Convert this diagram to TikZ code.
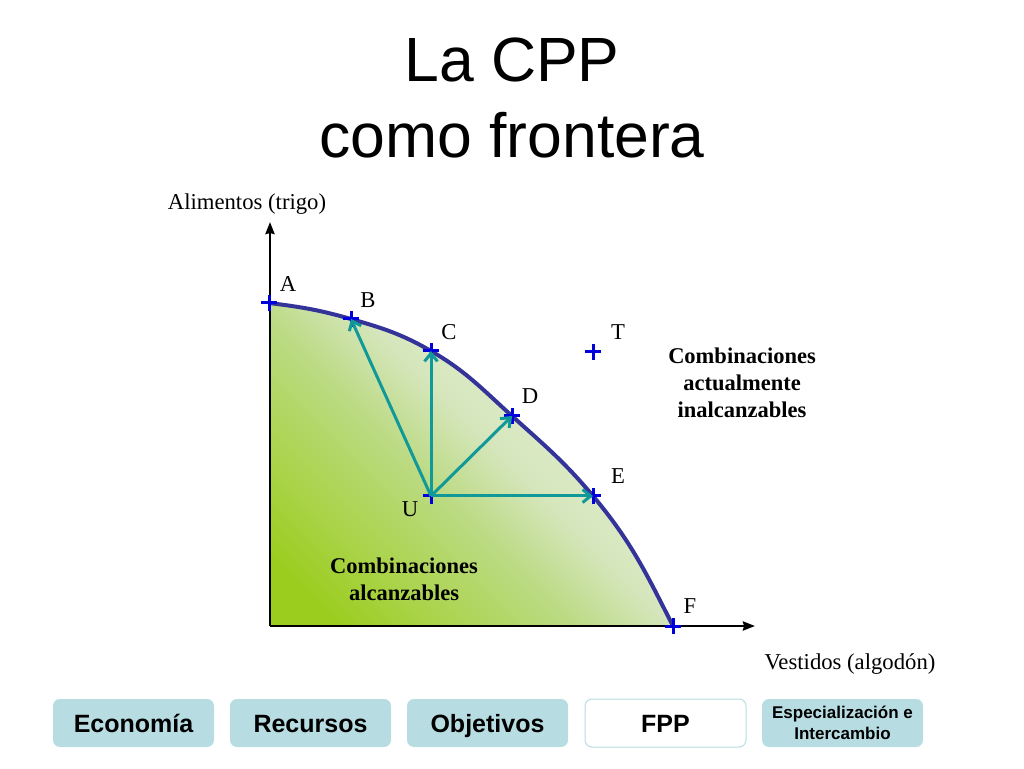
\documentclass[tikz,border=0pt]{standalone}
\usepackage{fontspec}
\setmainfont{Liberation Serif}
\newfontfamily\sansfont{Liberation Sans}
\usetikzlibrary{arrows.meta, shapes.misc}
\definecolor{tabfill}{HTML}{B7DDE3}
\definecolor{curveblue}{HTML}{333399}
\definecolor{crossblue}{HTML}{0000DD}
\definecolor{arrowteal}{HTML}{119999}
\definecolor{verdea}{HTML}{9ACD1E}
\definecolor{verdeb}{HTML}{ABD34A}
\definecolor{verdec}{HTML}{BBDA82}
\definecolor{verded}{HTML}{D5E6BC}
\definecolor{verdee}{HTML}{DDEBC8}
\definecolor{verdef}{HTML}{E8F1DA}
\pgfdeclareverticalshading{verde}{100bp}{
  color(0bp)=(verdea);
  color(21bp)=(verdea);
  color(31bp)=(verdeb);
  color(44bp)=(verdec);
  color(54bp)=(verded);
  color(62bp)=(verdee);
  color(72bp)=(verdef);
  color(100bp)=(verdef)}
\tikzset{
  punto/.style={cross out, draw=crossblue, line width=3pt, rotate=45, minimum size=12pt, inner sep=0pt, outer sep=0pt},
  etiqueta/.style={font=\fontsize{22.7}{27}\selectfont},
  negrita/.style={font=\fontsize{22.5}{27}\selectfont\bfseries, align=center},
  flecha/.style={draw=arrowteal, line width=3pt, -{Straight Barb[length=8pt,width=13pt]}},
  eje/.style={line width=2.6pt, -{Stealth[length=12pt,width=9pt,inset=1pt]}},
  tab/.style={rounded corners=7pt, fill=tabfill, minimum width=161pt, minimum height=48pt, inner sep=0pt, align=center, font=\sansfont\bfseries\fontsize{25}{29}\selectfont, text height=18pt, text depth=0pt},
  tabdos/.style={rounded corners=7pt, fill=tabfill, minimum width=161pt, minimum height=48pt, inner sep=0pt, align=center, font=\sansfont\bfseries\fontsize{17}{21}\selectfont},
}
\begin{document}
\begin{tikzpicture}[x=1pt,y=1pt]
  \useasboundingbox (0,0) rectangle (1024,768);
  % puntos de la curva
  \coordinate (a) at (269,465);
  \coordinate (b) at (351,449);
  \coordinate (c) at (431,417);
  \coordinate (d) at (512,352);
  \coordinate (e) at (593,272);
  \coordinate (f) at (673,142);
  \coordinate (o) at (270,142);
  \coordinate (xend) at (755,142);
  \coordinate (yend) at (270,546);
  % region alcanzable
  \shade[shading=verde, shading angle=-45]
    (a) to[out=-7,in=164,looseness=.8] (b) to[out=-16,in=150,looseness=.8] (c) to[out=-30,in=138,looseness=.8] (d) to[out=-42,in=130,looseness=.8] (e) to[out=-50,in=117,looseness=.8] (f) -- (o) -- cycle;
  \draw[line width=.8pt] (a) to[out=-7,in=164,looseness=.8] (b) to[out=-16,in=150,looseness=.8] (c) to[out=-30,in=138,looseness=.8] (d) to[out=-42,in=130,looseness=.8] (e) to[out=-50,in=117,looseness=.8] (f);
  \draw[line width=4pt, curveblue] (a) to[out=-7,in=164] (b) to[out=-16,in=150] (c) to[out=-30,in=138] (d) to[out=-42,in=130] (e) to[out=-50,in=117] (f);
  % ejes
  \draw[eje] (o) -- (yend);
  \draw[eje] (o) -- (xend);
  % puntos
  \node[punto] (A) at (a) {};
  \node[punto] (B) at (b) {};
  \node[punto] (C) at (c) {};
  \node[punto] (D) at (d) {};
  \node[punto] (E) at (e) {};
  \node[punto] (F) at (f) {};
  \node[punto] (T) at (593,416) {};
  \node[punto] (U) at (431,272) {};
  % flechas
  \draw[flecha] (U.center) -- (B.center);
  \draw[flecha] (U.center) -- (C.center);
  \draw[flecha] (U.center) -- (D.center);
  \draw[flecha] (U.center) -- (E.center);
  % letras
  \node[etiqueta] (lA) at (288,484) {A};
  \node[etiqueta] (lB) at (368,468) {B};
  \node[etiqueta] (lC) at (449,436) {C};
  \node[etiqueta] (lD) at (530,372) {D};
  \node[etiqueta] (lE) at (618,292) {E};
  \node[etiqueta] (lF) at (690,162) {F};
  \node[etiqueta] (lT) at (618,436) {T};
  \node[etiqueta] (lU) at (410,259) {U};
  \node[etiqueta] (ylab) at (247,564) {Alimentos (trigo)};
  \node[etiqueta] (xlab) at (850,104) {Vestidos (algodón)};
  \node[negrita] (fuera) at (742,385) {Combinaciones\\actualmente\\inalcanzables};
  \node[negrita] (dentro) at (404,189) {Combinaciones\\alcanzables};
  % titulo
  \node[font=\sansfont\fontsize{62.5}{76}\selectfont, align=center] (titulo) at (512,670) {La CPP\\como frontera};
  % pestanas
  \node[tab] (t1) at (133.5,45) {Economía};
  \node[tab] (t2) at (310.5,45) {Recursos};
  \node[tab] (t3) at (487.5,45) {Objetivos};
  \node[tab, fill=white, draw=tabfill, line width=1pt] (t4) at (665.5,45) {FPP};
  \node[tabdos] (t5) at (842.5,45) {Especialización e\\Intercambio};
\end{tikzpicture}
\end{document}
